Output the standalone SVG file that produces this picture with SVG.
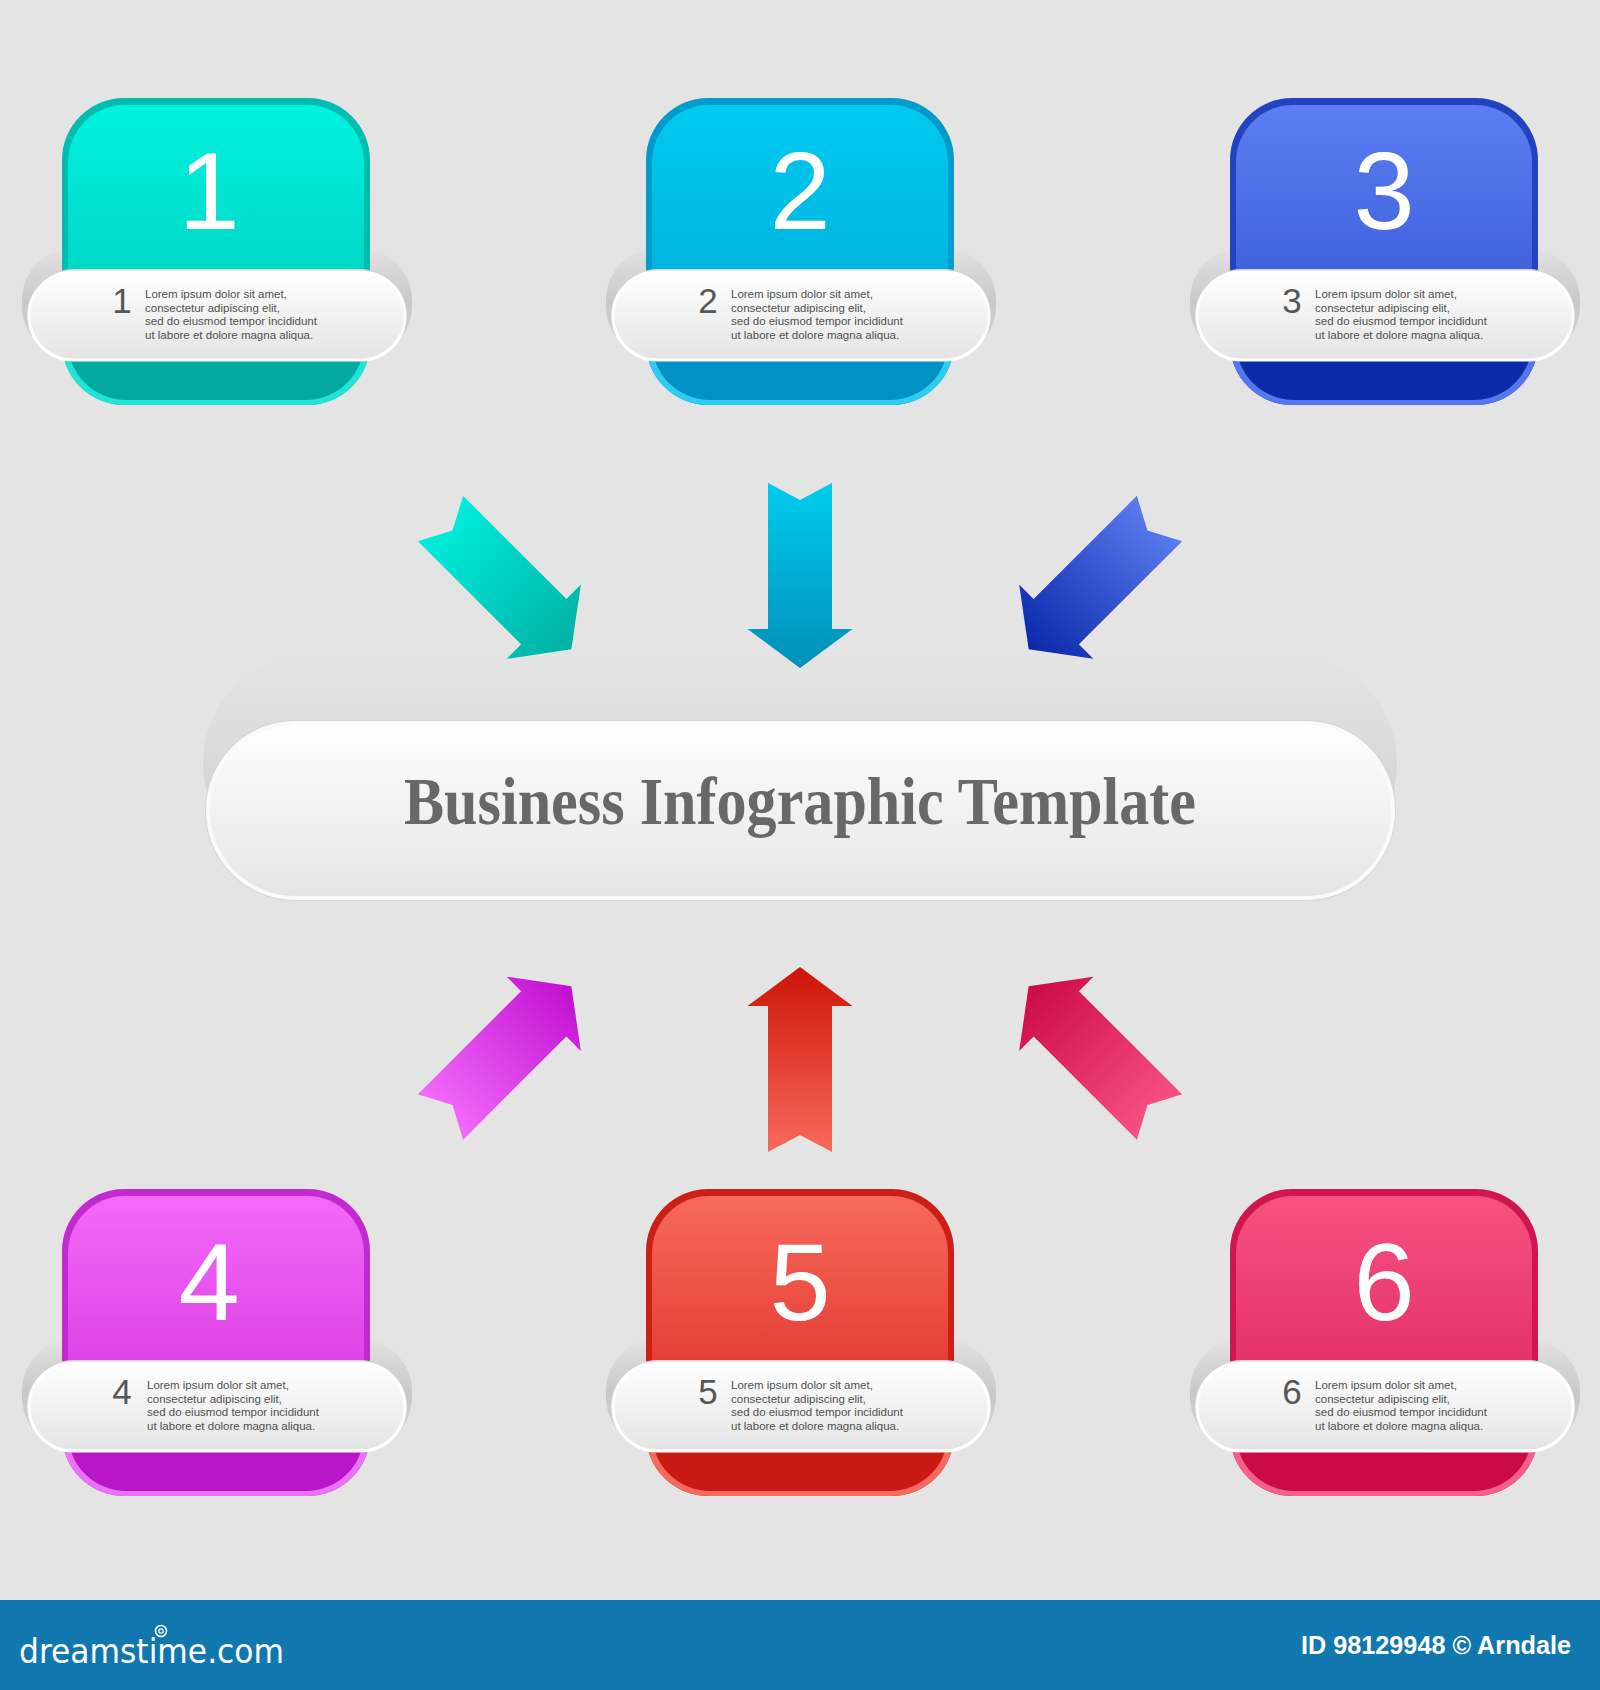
<svg xmlns="http://www.w3.org/2000/svg" width="1600" height="1690" viewBox="0 0 1600 1690">
<style>
.big{font-family:"Liberation Sans",Arial,sans-serif;font-size:110px;fill:#ffffff;text-anchor:middle}
.num{font-family:"Liberation Sans",Arial,sans-serif;font-size:35px;fill:#575757;text-anchor:middle}
.lorem{font-family:"Liberation Sans",Arial,sans-serif;font-size:11.5px;fill:#505050}
.title{font-family:"Liberation Serif","Times New Roman",serif;font-weight:bold;font-size:68px;fill:#686868}
.slot{fill:url(#slotG)}
.bandsh{fill:#d4d4d4}
.band{fill:url(#bandG);stroke:#ffffff;stroke-width:3}
.foot{font-family:"DejaVu Sans",sans-serif;fill:#ffffff}
</style>
<defs>
  <linearGradient id="slotG" x1="0" y1="0" x2="0" y2="1">
    <stop offset="0" stop-color="#e2e2e2"/>
    <stop offset="0.5" stop-color="#c8c8c8"/>
    <stop offset="1" stop-color="#d6d6d6"/>
  </linearGradient>
  <linearGradient id="bandG" x1="0" y1="0" x2="0" y2="1">
    <stop offset="0" stop-color="#ffffff"/>
    <stop offset="0.45" stop-color="#f3f3f3"/>
    <stop offset="1" stop-color="#e4e4e4"/>
  </linearGradient>
  <linearGradient id="backG" x1="0" y1="0" x2="0" y2="1">
    <stop offset="0" stop-color="#e4e4e4"/>
    <stop offset="0.4" stop-color="#dcdcdc"/>
    <stop offset="1" stop-color="#cacaca"/>
  </linearGradient>
  <linearGradient id="pillG" x1="0" y1="0" x2="0" y2="1">
    <stop offset="0" stop-color="#ffffff"/>
    <stop offset="0.45" stop-color="#f3f3f3"/>
    <stop offset="1" stop-color="#e5e5e5"/>
  </linearGradient>
  <clipPath id="lowClip"><rect x="-10" y="250" width="330" height="70"/></clipPath>
  <linearGradient id="t1" x1="0" y1="0" x2="0" y2="1"><stop offset="0" stop-color="#00f2e0"/><stop offset="0.6" stop-color="#00d6c6"/></linearGradient>
  <linearGradient id="t2" x1="0" y1="0" x2="0" y2="1"><stop offset="0" stop-color="#00caf0"/><stop offset="0.6" stop-color="#00b4de"/></linearGradient>
  <linearGradient id="t3" x1="0" y1="0" x2="0" y2="1"><stop offset="0" stop-color="#5b7ef2"/><stop offset="0.6" stop-color="#3f60dc"/></linearGradient>
  <linearGradient id="t4" x1="0" y1="0" x2="0" y2="1"><stop offset="0" stop-color="#f46af8"/><stop offset="0.6" stop-color="#dc40e6"/></linearGradient>
  <linearGradient id="t5" x1="0" y1="0" x2="0" y2="1"><stop offset="0" stop-color="#f66a5c"/><stop offset="0.6" stop-color="#e43c32"/></linearGradient>
  <linearGradient id="t6" x1="0" y1="0" x2="0" y2="1"><stop offset="0" stop-color="#f6527f"/><stop offset="0.6" stop-color="#e3306a"/></linearGradient>
  <linearGradient id="a1" x1="0" y1="0" x2="1" y2="0"><stop offset="0" stop-color="#00eedc"/><stop offset="1" stop-color="#00b0a4"/></linearGradient>
  <linearGradient id="a2" x1="0" y1="0" x2="1" y2="0"><stop offset="0" stop-color="#00ccee"/><stop offset="1" stop-color="#008fb8"/></linearGradient>
  <linearGradient id="a3" x1="0" y1="0" x2="1" y2="0"><stop offset="0" stop-color="#5a7cf0"/><stop offset="1" stop-color="#0a28a8"/></linearGradient>
  <linearGradient id="a4" x1="0" y1="0" x2="1" y2="0"><stop offset="0" stop-color="#f26cfa"/><stop offset="1" stop-color="#c010d0"/></linearGradient>
  <linearGradient id="a5" x1="0" y1="0" x2="1" y2="0"><stop offset="0" stop-color="#f86a5a"/><stop offset="1" stop-color="#cc1408"/></linearGradient>
  <linearGradient id="a6" x1="0" y1="0" x2="1" y2="0"><stop offset="0" stop-color="#f65284"/><stop offset="1" stop-color="#cc0a45"/></linearGradient>
  <path id="arrowShape" d="M0,-32 L146,-32 L146,-52.5 L185,0 L146,52.5 L146,32 L0,32 L17,0 Z"/>
</defs>

<rect x="0" y="0" width="1600" height="1690" fill="#e4e4e4"/>

<g id="card-1" transform="translate(62,98)">
  <rect class="slot" x="-40" y="150" width="390" height="110" rx="52"/>
  <rect x="0" y="0" width="308" height="307" rx="62" fill="#00bdb0"/>
  <rect x="6" y="7" width="296" height="292" rx="57" fill="url(#t1)"/>
  <g clip-path="url(#lowClip)">
    <rect x="0" y="0" width="308" height="307" rx="62" fill="#22e4d5"/>
    <rect x="6" y="0" width="296" height="302" rx="58" fill="#00a99d"/>
  </g>
  <rect class="bandsh" x="-35" y="171" width="380" height="92" rx="46"/>
  <rect class="band" x="-33" y="174" width="376" height="88" rx="44"/>
  <text class="big" x="147" y="131">1</text>
  <text class="num" x="60" y="215">1</text>
  <text class="lorem"><tspan x="83" y="200">Lorem ipsum dolor sit amet,</tspan><tspan x="83" y="213.5">consectetur adipiscing elit,</tspan><tspan x="83" y="227">sed do eiusmod tempor incididunt</tspan><tspan x="83" y="240.5">ut labore et dolore magna aliqua.</tspan></text>
</g>

<g id="card-2" transform="translate(646,98)">
  <rect class="slot" x="-40" y="150" width="390" height="110" rx="52"/>
  <rect x="0" y="0" width="308" height="307" rx="62" fill="#009ccb"/>
  <rect x="6" y="7" width="296" height="292" rx="57" fill="url(#t2)"/>
  <g clip-path="url(#lowClip)">
    <rect x="0" y="0" width="308" height="307" rx="62" fill="#2ecbf2"/>
    <rect x="6" y="0" width="296" height="302" rx="58" fill="#0092c2"/>
  </g>
  <rect class="bandsh" x="-35" y="171" width="380" height="92" rx="46"/>
  <rect class="band" x="-33" y="174" width="376" height="88" rx="44"/>
  <text class="big" x="154" y="131">2</text>
  <text class="num" x="62" y="215">2</text>
  <text class="lorem"><tspan x="85" y="200">Lorem ipsum dolor sit amet,</tspan><tspan x="85" y="213.5">consectetur adipiscing elit,</tspan><tspan x="85" y="227">sed do eiusmod tempor incididunt</tspan><tspan x="85" y="240.5">ut labore et dolore magna aliqua.</tspan></text>
</g>

<g id="card-3" transform="translate(1230,98)">
  <rect class="slot" x="-40" y="150" width="390" height="110" rx="52"/>
  <rect x="0" y="0" width="308" height="307" rx="62" fill="#2242c0"/>
  <rect x="6" y="7" width="296" height="292" rx="57" fill="url(#t3)"/>
  <g clip-path="url(#lowClip)">
    <rect x="0" y="0" width="308" height="307" rx="62" fill="#5576ee"/>
    <rect x="6" y="0" width="296" height="302" rx="58" fill="#0a2aa8"/>
  </g>
  <rect class="bandsh" x="-35" y="171" width="380" height="92" rx="46"/>
  <rect class="band" x="-33" y="174" width="376" height="88" rx="44"/>
  <text class="big" x="154" y="131">3</text>
  <text class="num" x="62" y="215">3</text>
  <text class="lorem"><tspan x="85" y="200">Lorem ipsum dolor sit amet,</tspan><tspan x="85" y="213.5">consectetur adipiscing elit,</tspan><tspan x="85" y="227">sed do eiusmod tempor incididunt</tspan><tspan x="85" y="240.5">ut labore et dolore magna aliqua.</tspan></text>
</g>

<g id="card-4" transform="translate(62,1189)">
  <rect class="slot" x="-40" y="150" width="390" height="110" rx="52"/>
  <rect x="0" y="0" width="308" height="307" rx="62" fill="#c02ad0"/>
  <rect x="6" y="7" width="296" height="292" rx="57" fill="url(#t4)"/>
  <g clip-path="url(#lowClip)">
    <rect x="0" y="0" width="308" height="307" rx="62" fill="#ea72f6"/>
    <rect x="6" y="0" width="296" height="302" rx="58" fill="#b814c8"/>
  </g>
  <rect class="bandsh" x="-35" y="171" width="380" height="92" rx="46"/>
  <rect class="band" x="-33" y="174" width="376" height="88" rx="44"/>
  <text class="big" x="147" y="131">4</text>
  <text class="num" x="60" y="215">4</text>
  <text class="lorem"><tspan x="85" y="200">Lorem ipsum dolor sit amet,</tspan><tspan x="85" y="213.5">consectetur adipiscing elit,</tspan><tspan x="85" y="227">sed do eiusmod tempor incididunt</tspan><tspan x="85" y="240.5">ut labore et dolore magna aliqua.</tspan></text>
</g>

<g id="card-5" transform="translate(646,1189)">
  <rect class="slot" x="-40" y="150" width="390" height="110" rx="52"/>
  <rect x="0" y="0" width="308" height="307" rx="62" fill="#cc2016"/>
  <rect x="6" y="7" width="296" height="292" rx="57" fill="url(#t5)"/>
  <g clip-path="url(#lowClip)">
    <rect x="0" y="0" width="308" height="307" rx="62" fill="#f46a5e"/>
    <rect x="6" y="0" width="296" height="302" rx="58" fill="#c81a12"/>
  </g>
  <rect class="bandsh" x="-35" y="171" width="380" height="92" rx="46"/>
  <rect class="band" x="-33" y="174" width="376" height="88" rx="44"/>
  <text class="big" x="154" y="131">5</text>
  <text class="num" x="62" y="215">5</text>
  <text class="lorem"><tspan x="85" y="200">Lorem ipsum dolor sit amet,</tspan><tspan x="85" y="213.5">consectetur adipiscing elit,</tspan><tspan x="85" y="227">sed do eiusmod tempor incididunt</tspan><tspan x="85" y="240.5">ut labore et dolore magna aliqua.</tspan></text>
</g>

<g id="card-6" transform="translate(1230,1189)">
  <rect class="slot" x="-40" y="150" width="390" height="110" rx="52"/>
  <rect x="0" y="0" width="308" height="307" rx="62" fill="#d01650"/>
  <rect x="6" y="7" width="296" height="292" rx="57" fill="url(#t6)"/>
  <g clip-path="url(#lowClip)">
    <rect x="0" y="0" width="308" height="307" rx="62" fill="#f4608a"/>
    <rect x="6" y="0" width="296" height="302" rx="58" fill="#cc0a45"/>
  </g>
  <rect class="bandsh" x="-35" y="171" width="380" height="92" rx="46"/>
  <rect class="band" x="-33" y="174" width="376" height="88" rx="44"/>
  <text class="big" x="154" y="131">6</text>
  <text class="num" x="62" y="215">6</text>
  <text class="lorem"><tspan x="85" y="200">Lorem ipsum dolor sit amet,</tspan><tspan x="85" y="213.5">consectetur adipiscing elit,</tspan><tspan x="85" y="227">sed do eiusmod tempor incididunt</tspan><tspan x="85" y="240.5">ut labore et dolore magna aliqua.</tspan></text>
</g>

<g id="title">
  <rect x="203" y="655" width="1194" height="217" rx="108" fill="url(#backG)"/>
  <rect x="205" y="720" width="1191" height="181" rx="90" fill="#d6d6d6"/>
  <rect x="208" y="723" width="1185" height="175" rx="87" fill="url(#pillG)" stroke="#fafafa" stroke-width="4"/>
  <text class="title" x="800" y="824" text-anchor="middle" textLength="792" lengthAdjust="spacingAndGlyphs">Business Infographic Template</text>
</g>

<g id="connectors">
  <use href="#arrowShape" fill="url(#a1)" transform="translate(440.5,518.5) rotate(45)"/>
  <use href="#arrowShape" fill="url(#a2)" transform="translate(800,483) rotate(90)"/>
  <use href="#arrowShape" fill="url(#a3)" transform="translate(1159.5,518.5) rotate(135)"/>
  <use href="#arrowShape" fill="url(#a4)" transform="translate(440.5,1117) rotate(-45)"/>
  <use href="#arrowShape" fill="url(#a5)" transform="translate(800,1152) rotate(-90)"/>
  <use href="#arrowShape" fill="url(#a6)" transform="translate(1159.5,1117) rotate(-135)"/>
</g>

<g id="footer">
  <rect x="0" y="1600" width="1600" height="90" fill="#1077af"/>
  <text class="foot" x="19" y="1663" font-size="34" textLength="265" lengthAdjust="spacingAndGlyphs">dreamstime.com</text>
  <circle cx="161" cy="1631" r="5.5" fill="none" stroke="#ffffff" stroke-width="1.6"/>
  <circle cx="161" cy="1631" r="2.2" fill="none" stroke="#ffffff" stroke-width="1.2"/>
  <text x="1571" y="1654" text-anchor="end" font-family="Liberation Sans, Arial, sans-serif" font-weight="bold" font-size="25" fill="#ffffff" textLength="270" lengthAdjust="spacingAndGlyphs">ID 98129948 © Arndale</text>
</g>
</svg>
